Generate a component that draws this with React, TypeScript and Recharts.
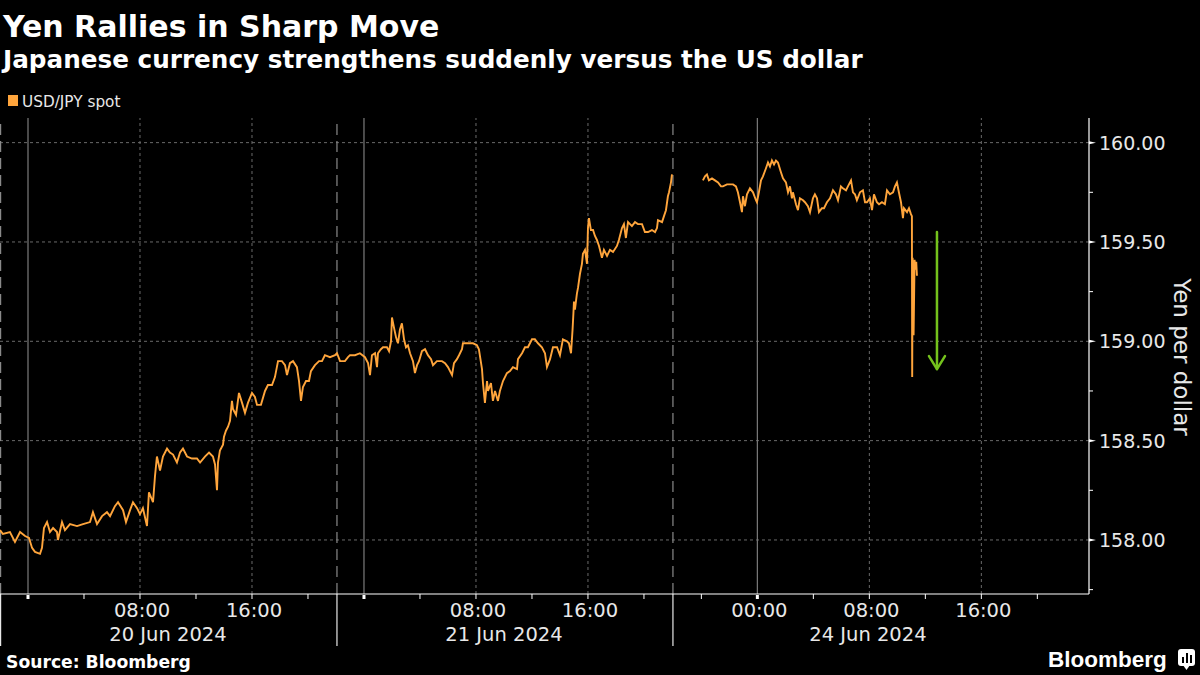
import { LineChart, Line, XAxis, YAxis, ReferenceLine } from 'recharts';

// USD/JPY spot, [trading hour from 20 Jun 00:00, price]; weekend hours are collapsed
const jun20: [number, number][] = [
  [-2, 158.05], [-1.79, 158.03], [-1.29, 158.04], [-0.93, 157.99], [-0.57, 158.04], [-0.21, 158.02],
  [0.07, 158.01], [0.29, 157.96], [0.5, 157.94], [0.86, 157.93], [1, 157.96], [1.14, 158.06],
  [1.36, 158.09], [1.57, 158.04], [1.79, 158.06], [2.07, 158.04], [2.14, 158.0], [2.43, 158.09],
  [2.64, 158.05], [3, 158.08], [3.5, 158.07], [3.93, 158.08], [4.43, 158.09], [4.64, 158.14],
  [4.93, 158.08], [5.29, 158.12], [5.64, 158.14], [5.86, 158.12], [6.21, 158.17], [6.43, 158.19],
  [6.79, 158.15], [7, 158.09], [7.29, 158.15], [7.5, 158.19], [7.79, 158.16], [8, 158.13],
  [8.21, 158.16], [8.5, 158.07], [8.64, 158.24], [8.93, 158.19], [9.07, 158.32], [9.21, 158.42],
  [9.43, 158.35], [9.64, 158.42], [9.93, 158.46], [10.14, 158.44], [10.36, 158.43], [10.64, 158.39],
  [10.86, 158.44], [11.07, 158.46], [11.36, 158.42], [11.71, 158.41], [12.07, 158.41], [12.29, 158.39],
  [12.64, 158.42], [12.93, 158.44], [13.21, 158.42], [13.36, 158.38], [13.5, 158.25], [13.57, 158.39],
  [13.71, 158.45], [13.93, 158.48], [14, 158.52], [14.14, 158.55], [14.29, 158.57], [14.43, 158.6],
  [14.57, 158.7], [14.64, 158.66], [14.86, 158.63], [15.07, 158.74], [15.29, 158.69], [15.5, 158.64],
  [15.71, 158.69], [16, 158.74], [16.21, 158.72], [16.36, 158.68], [16.64, 158.68], [16.93, 158.75],
  [17.14, 158.78], [17.43, 158.78], [17.64, 158.82], [17.86, 158.9], [18.14, 158.9], [18.36, 158.88],
  [18.5, 158.83], [18.71, 158.89], [18.93, 158.9], [19.21, 158.87], [19.36, 158.8], [19.5, 158.7],
  [19.64, 158.77], [19.86, 158.8], [20.07, 158.8], [20.21, 158.85], [20.5, 158.88], [20.79, 158.9],
  [21, 158.9], [21.21, 158.93], [21.57, 158.92], [21.93, 158.93], [22.07, 158.94],
];

const jun21: [number, number][] = [
  [22.29, 158.9], [22.64, 158.9], [22.86, 158.92], [23, 158.93], [23.36, 158.93], [23.71, 158.94],
  [24.07, 158.92], [24.29, 158.89], [24.43, 158.83], [24.57, 158.93], [24.79, 158.94], [24.93, 158.87],
  [25, 158.94], [25.21, 158.96], [25.36, 158.97], [25.64, 158.97], [25.79, 158.95], [25.93, 159.0],
  [26, 159.12], [26.14, 159.07], [26.29, 159.02], [26.43, 158.99], [26.57, 159.06], [26.71, 159.09],
  [26.86, 159.01], [27, 158.97], [27.14, 158.98], [27.29, 158.94], [27.5, 158.9], [27.64, 158.84],
  [27.79, 158.88], [27.93, 158.9], [28.14, 158.95], [28.36, 158.96], [28.57, 158.93], [28.79, 158.91],
  [28.93, 158.88], [29.21, 158.9], [29.57, 158.9], [29.79, 158.89], [30, 158.87], [30.29, 158.83],
  [30.43, 158.89], [30.64, 158.91], [30.79, 158.93], [31, 158.96], [31.07, 158.99], [31.36, 158.99],
  [31.57, 158.99], [31.79, 158.99], [32.07, 158.98], [32.21, 158.96], [32.43, 158.86], [32.5, 158.79],
  [32.64, 158.69], [32.79, 158.8], [32.86, 158.75], [33.07, 158.79], [33.21, 158.7], [33.36, 158.75],
  [33.57, 158.7], [33.71, 158.75], [33.93, 158.8], [34.21, 158.84], [34.43, 158.85], [34.64, 158.87],
  [34.93, 158.86], [35, 158.91], [35.29, 158.94], [35.5, 158.97], [35.71, 158.97], [36, 159.01],
  [36.21, 159.01], [36.43, 158.99], [36.71, 158.97], [36.93, 158.94], [37.07, 158.87], [37.29, 158.91],
  [37.5, 158.97], [37.79, 158.97], [38, 158.93], [38.21, 159.01], [38.5, 159.0], [38.64, 158.99],
  [38.79, 158.94], [38.9, 159.06], [38.96, 159.14], [39, 159.2], [39.07, 159.16], [39.21, 159.24],
  [39.29, 159.27], [39.43, 159.34], [39.57, 159.39], [39.64, 159.44], [39.79, 159.46], [39.93, 159.39],
  [40, 159.57], [40.07, 159.62], [40.21, 159.56], [40.36, 159.56], [40.5, 159.53], [40.64, 159.51],
  [40.79, 159.48], [41, 159.42], [41.14, 159.46], [41.36, 159.43], [41.57, 159.46], [41.79, 159.45],
  [42.07, 159.48], [42.21, 159.51], [42.43, 159.57], [42.57, 159.59], [42.71, 159.52], [42.86, 159.6],
  [43.14, 159.58], [43.36, 159.6], [43.57, 159.59], [43.86, 159.59], [44.07, 159.55], [44.29, 159.55],
  [44.57, 159.56], [44.79, 159.55], [44.93, 159.57], [45, 159.61], [45.29, 159.6], [45.43, 159.63],
  [45.57, 159.66], [45.71, 159.73], [45.79, 159.75], [45.93, 159.8], [46, 159.84],
];

const jun24: [number, number][] = [
  [48.21, 159.81], [48.36, 159.83], [48.5, 159.84], [48.64, 159.81], [48.86, 159.82], [49.07, 159.81],
  [49.29, 159.8], [49.5, 159.78], [49.64, 159.78], [49.93, 159.79], [50.07, 159.79], [50.36, 159.79],
  [50.57, 159.78], [50.71, 159.75], [50.86, 159.7], [51, 159.65], [51.07, 159.73], [51.21, 159.68],
  [51.36, 159.74], [51.57, 159.77], [51.79, 159.75], [52, 159.71], [52.07, 159.7], [52.21, 159.75],
  [52.36, 159.81], [52.5, 159.83], [52.71, 159.87], [52.86, 159.9], [53, 159.88], [53.14, 159.91],
  [53.29, 159.89], [53.43, 159.91], [53.57, 159.9], [53.79, 159.85], [53.93, 159.82], [54.14, 159.8],
  [54.29, 159.75], [54.43, 159.78], [54.57, 159.72], [54.64, 159.75], [54.86, 159.69], [55, 159.66],
  [55.14, 159.72], [55.36, 159.71], [55.5, 159.7], [55.71, 159.68], [55.86, 159.65], [56.07, 159.72],
  [56.21, 159.74], [56.36, 159.72], [56.5, 159.65], [56.71, 159.67], [56.86, 159.67], [57.07, 159.7],
  [57.29, 159.72], [57.5, 159.76], [57.71, 159.74], [57.86, 159.71], [58.07, 159.78], [58.21, 159.77],
  [58.43, 159.76], [58.57, 159.78], [58.79, 159.81], [58.93, 159.75], [59.07, 159.74], [59.21, 159.71],
  [59.43, 159.75], [59.64, 159.76], [59.79, 159.7], [59.93, 159.7], [60.14, 159.72], [60.29, 159.66],
  [60.43, 159.74], [60.64, 159.7], [60.79, 159.69], [61, 159.7], [61.21, 159.69], [61.36, 159.76],
  [61.57, 159.74], [61.79, 159.75], [61.93, 159.78], [62.07, 159.8], [62.21, 159.75], [62.36, 159.7],
  [62.5, 159.62], [62.57, 159.67], [62.79, 159.65], [62.93, 159.67], [63.07, 159.64], [63.14, 159.63],
  [63.16, 158.82], [63.19, 159.42], [63.23, 159.12], [63.26, 159.03], [63.33, 159.41], [63.4, 159.36],
  [63.45, 159.4], [63.5, 159.33],
];

const weekendGap = 47;

const priceTicks = [157.75, 158, 158.25, 158.5, 158.75, 159, 159.25, 159.5, 159.75, 160];
const priceGrid = [158, 158.5, 159, 159.5, 160];

const hourTicks = [0, 4, 8, 12, 16, 20, 24, 28, 32, 36, 40, 44, 48.1, 52.1, 56.1, 60.1, 64.1, 68.1, 72.1];
const hourTickLabels = ['', '', '08:00', '', '16:00', '', '', '', '08:00', '', '16:00', '', '', '00:00', '', '08:00', '', '16:00', ''];
const dayStartHours = [0, 24, 52.1];
const dayBreakHours = [-2, 22.07, 46.07];
const gridHours = [8, 16, 32, 40, 60.1, 68.1];
const dayLabelHours = [10, 34, 60];
const dayLabels = ['20 Jun 2024', '21 Jun 2024', '24 Jun 2024'];

const arrowHour = 64.93;
const arrowFrom = 159.55;
const arrowTo = 158.86;

const chartData = [
  ...jun20.map(([h, v]) => ({ h, v })),
  ...jun21.map(([h, v]) => ({ h, v })),
  { h: weekendGap, v: null },
  ...jun24.map(([h, v]) => ({ h, v })),
];

const FONT = '"DejaVu Sans", sans-serif';
const ORANGE = '#ffa53c';
const TEXT = '#e8e8e8';

const near = (a: number, b: number) => Math.abs(a - b) < 0.01;

function HourTick({ x, y, payload }: any) {
  const v = payload.value as number;
  const di = dayLabelHours.findIndex((d) => near(d, v));
  if (di >= 0) {
    return (
      <text x={x} y={y + 47} textAnchor="middle" fill={TEXT} fontSize={19.5} fontFamily={FONT}>
        {dayLabels[di]}
      </text>
    );
  }
  const ti = hourTicks.findIndex((t) => near(t, v));
  const isStart = dayStartHours.some((d) => near(d, v));
  return (
    <g>
      {isStart ? (
        <rect x={x - 1.5} y={y + 1} width={3} height={4} fill="#fff" />
      ) : (
        <line x1={x} x2={x} y1={y} y2={y + 5} stroke="#fff" strokeWidth={1} />
      )}
      {hourTickLabels[ti] ? (
        <text x={x + 2} y={y + 23} textAnchor="middle" fill={TEXT} fontSize={19.5} fontFamily={FONT}>
          {hourTickLabels[ti]}
        </text>
      ) : null}
    </g>
  );
}

function PriceTick({ x, y, payload }: any) {
  const v = payload.value as number;
  const major = priceGrid.some((g) => Math.abs(g - v) < 1e-6);
  const ax = x - 10;
  return (
    <g>
      {major ? (
        <polygon points={`${ax},${y - 1.5} ${ax + 7},${y} ${ax},${y + 1.5}`} fill="#fff" />
      ) : (
        <line x1={ax} x2={ax + 4} y1={y} y2={y} stroke="#fff" strokeWidth={1} />
      )}
      {major ? (
        <text x={x} y={y + 7} fill={TEXT} fontSize={19} fontFamily={FONT}>
          {v.toFixed(2)}
        </text>
      ) : null}
    </g>
  );
}

const BreakLine = (p: any) => {
  const x = Math.max(p.x1, 0.6);
  const bottom = Math.max(p.y1, p.y2);
  return (
    <g>
      <line x1={x} x2={x} y1={p.y1} y2={p.y2} stroke="#8a8a8a" strokeWidth={1.2} strokeDasharray="11 6" />
      <line x1={x} x2={x} y1={bottom} y2={bottom + 52} stroke={TEXT} strokeWidth={1.2} />
    </g>
  );
};

const Arrow = (p: any) => {
  const x = p.x1;
  const top = Math.min(p.y1, p.y2);
  const bottom = Math.max(p.y1, p.y2);
  return (
    <g stroke="#74c21c" strokeWidth={2.5} fill="none" strokeLinecap="round" strokeLinejoin="round">
      <line x1={x} x2={x} y1={top} y2={bottom} />
      <polyline points={`${x - 8},${bottom - 13} ${x},${bottom} ${x + 8},${bottom - 13}`} />
    </g>
  );
};

export default function App() {
  return (
    <div style={{ position: 'fixed', left: 0, top: 0, width: 1200, height: 675, background: '#000', overflow: 'hidden' }}>
      <LineChart
        width={1200}
        height={675}
        data={chartData}
        margin={{ top: 118, right: 0, bottom: 21, left: 0 }}
        style={{ position: 'absolute', left: 0, top: 0 }}
      >
        {priceGrid.map((p) => (
          <ReferenceLine key={`hg${p}`} y={p} stroke="#6a6a6a" strokeDasharray="3 3" />
        ))}
        {gridHours.map((h) => (
          <ReferenceLine key={`vg${h}`} x={h} stroke="#6a6a6a" strokeDasharray="3 3" />
        ))}
        {dayStartHours.map((h) => (
          <ReferenceLine key={`ds${h}`} x={h} stroke="#7c7c7c" strokeWidth={1.2} />
        ))}
        {dayBreakHours.map((h) => (
          <ReferenceLine key={`db${h}`} x={h} shape={BreakLine} />
        ))}
        <XAxis
          dataKey="h"
          type="number"
          domain={[-2, 75.79]}
          allowDataOverflow
          ticks={[...hourTicks, ...dayLabelHours].sort((a, b) => a - b)}
          interval={0}
          height={60}
          tickSize={0}
          tickMargin={0}
          tickLine={false}
          axisLine={{ stroke: '#fff', strokeWidth: 1.2 }}
          tick={HourTick}
        />
        <YAxis
          orientation="right"
          type="number"
          domain={[157.728, 160.124]}
          allowDataOverflow
          ticks={priceTicks}
          interval={0}
          width={111}
          tickSize={0}
          tickMargin={10}
          tickLine={false}
          axisLine={{ stroke: '#fff', strokeWidth: 1.2 }}
          tick={PriceTick}
        />
        <Line
          dataKey="v"
          type="linear"
          stroke={ORANGE}
          strokeWidth={1.9}
          strokeLinejoin="miter"
          dot={false}
          connectNulls={false}
          isAnimationActive={false}
        />
        <ReferenceLine
          segment={[
            { x: arrowHour, y: arrowFrom },
            { x: arrowHour, y: arrowTo },
          ]}
          shape={Arrow}
        />
      </LineChart>
      <svg width={1200} height={675} style={{ position: 'absolute', left: 0, top: 0, pointerEvents: 'none' }}>
        <text x={3} y={37} fill="#fff" fontSize={30} fontWeight="bold" fontFamily={FONT}>
          Yen Rallies in Sharp Move
        </text>
        <text x={3} y={68} fill="#fff" fontSize={24.7} fontWeight="bold" fontFamily={FONT}>
          Japanese currency strengthens suddenly versus the US dollar
        </text>
        <rect x={8} y={95} width={10} height={11} fill={ORANGE} />
        <text x={22} y={107} fill={TEXT} fontSize={15.3} fontFamily={FONT}>
          USD/JPY spot
        </text>
        <text
          transform="translate(1182,357) rotate(90)"
          textAnchor="middle"
          dominantBaseline="central"
          fill={TEXT}
          fontSize={23}
          fontFamily={FONT}
        >
          Yen per dollar
        </text>
        <text x={6} y={668} fill="#fff" fontSize={17.2} fontWeight="bold" fontFamily={FONT}>
          Source: Bloomberg
        </text>
        <text x={1048} y={667} fill="#fff" fontSize={22.5} fontWeight="bold" fontFamily='"Liberation Sans", Arial, sans-serif'>
          Bloomberg
        </text>
        <rect x={1178} y={649} width={17} height={17} rx={3} fill="#fff" />
        <polygon points="1183,665 1186.5,670 1190,665" fill="#fff" />
        <rect x={1182} y={657} width={2} height={6} fill="#000" />
        <rect x={1186} y={653} width={2} height={10} fill="#000" />
        <rect x={1190} y={655} width={2} height={8} fill="#000" />
      </svg>
    </div>
  );
}
